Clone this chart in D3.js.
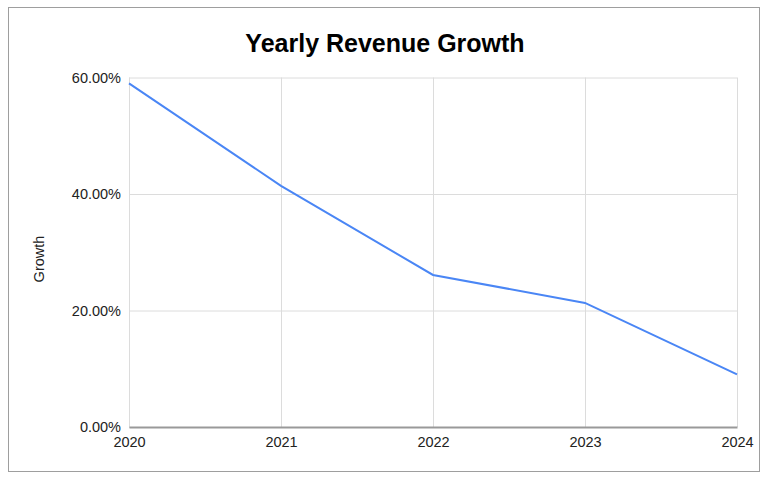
<!DOCTYPE html>
<meta charset="utf-8">
<head>
  <title>Yearly Revenue Growth</title>
  <style>
    body { margin: 0; background: #fff; }
    text { font-family: "Liberation Sans", Arial, sans-serif; }
  </style>
</head>
<body>
<script src="https://d3js.org/d3.v7.min.js"></script>
<script>

const years = ["2020", "2021", "2022", "2023", "2024"];
const growth = [0.59, 0.414, 0.261, 0.213, 0.0905];
const yTicks = [0, 0.2, 0.4, 0.6];

const totalWidth = 768, totalHeight = 480,
      margin = {top: 77.5, right: 31, bottom: 53, left: 129},
      width = totalWidth - margin.left - margin.right,
      height = totalHeight - margin.top - margin.bottom;

const svg = d3.select("body")
    .append("svg")
    .attr("width", totalWidth)
    .attr("height", totalHeight);

// outer frame
svg.append("rect")
  .attr("x", 8.5).attr("y", 7.5)
  .attr("width", 751).attr("height", 464)
  .style("fill", "#fff")
  .style("stroke", "#9e9e9e");

svg.append("text")
  .attr("x", 385).attr("y", 52)
  .attr("text-anchor", "middle")
  .style("font-size", "25px")
  .style("font-weight", "bold")
  .style("fill", "#000")
  .text("Yearly Revenue Growth");

const g = svg.append("g")
  .attr("transform", "translate(" + margin.left + "," + margin.top + ")");

const x = d3.scalePoint()
  .domain(years)
  .range([0, width]);

const y = d3.scaleLinear()
  .domain([0, 0.6])
  .range([height, 0]);

// horizontal grid
g.append("g")
  .call(d3.axisLeft(y).tickValues(yTicks).tickSize(-width).tickFormat(""))
  .call(s => s.select(".domain").remove())
  .call(s => s.selectAll("line").style("stroke", "#dcdcdc"));

// vertical grid
g.append("g")
  .attr("transform", "translate(0," + height + ")")
  .call(d3.axisBottom(x).tickSize(-height).tickFormat(""))
  .call(s => s.select(".domain").remove())
  .call(s => s.selectAll("line").style("stroke", "#dcdcdc"));

// y labels
g.append("g")
  .call(d3.axisLeft(y).tickValues(yTicks).tickSize(0).tickPadding(8).tickFormat(d3.format(".2%")))
  .call(s => s.select(".domain").remove())
  .call(s => s.selectAll("text")
    .style("font-size", "14.5px")
    .style("fill", "#222")
    .style("font-family", "'Liberation Sans', Arial, sans-serif"));

// x axis
g.append("g")
  .attr("transform", "translate(0," + height + ")")
  .call(d3.axisBottom(x).tickSize(0).tickPadding(10))
  .call(s => s.select(".domain").style("stroke", "#999").style("stroke-width", 2))
  .call(s => s.selectAll("text")
    .style("font-size", "14.5px")
    .style("fill", "#222")
    .style("font-family", "'Liberation Sans', Arial, sans-serif"));

// line
const line = d3.line()
  .x((d, i) => x(years[i]))
  .y(d => y(d));

g.append("path")
  .attr("d", line(growth))
  .style("fill", "none")
  .style("stroke", "#4a86f5")
  .style("stroke-width", 2);

// y title
svg.append("text")
  .attr("transform", "translate(44,259) rotate(-90)")
  .attr("text-anchor", "middle")
  .style("font-size", "14.5px")
  .style("fill", "#222")
  .text("Growth");

</script>
</body>
</html>
